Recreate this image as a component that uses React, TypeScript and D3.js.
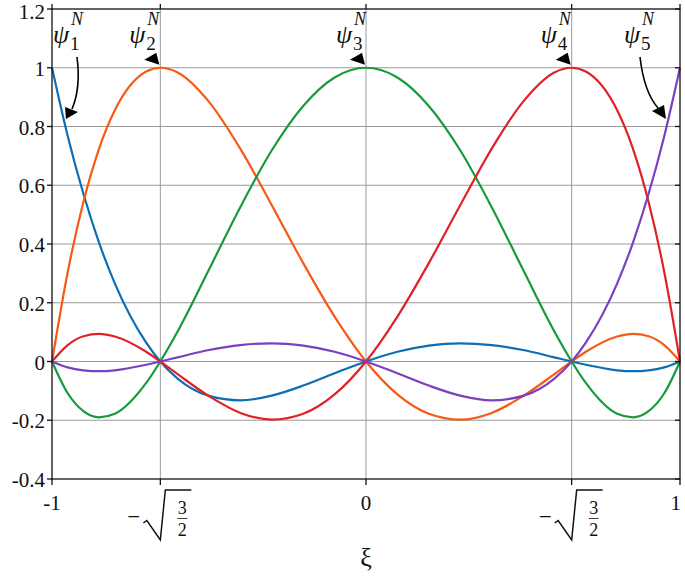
import * as d3 from "d3";

// Gauss-Lobatto node (shown on the axis as "-sqrt(3/2)")
const NODE = 0.655;

const xi = [-1, -0.95, -0.9, -0.85, -0.8, -0.7, -NODE, -0.6, -0.5, -0.4, -0.3, -0.2, -0.1, 0,
  0.1, 0.2, 0.3, 0.4, 0.5, 0.6, NODE, 0.7, 0.8, 0.85, 0.9, 0.95, 1];

const psi1 = [1, 0.768, 0.571, 0.404, 0.266, 0.064, 0, -0.058, -0.117, -0.132, -0.116, -0.082, -0.04, 0,
  0.033, 0.054, 0.062, 0.056, 0.039, 0.014, 0, -0.011, -0.03, -0.033, -0.03, -0.02, 0];
const psi2 = [0, 0.304, 0.543, 0.725, 0.855, 0.987, 1, 0.984, 0.884, 0.724, 0.532, 0.335, 0.153, 0,
  -0.112, -0.178, -0.198, -0.175, -0.118, -0.043, 0, 0.033, 0.085, 0.094, 0.086, 0.056, 0];
const psi3 = [0, -0.108, -0.169, -0.19, -0.178, -0.073, 0, 0.102, 0.313, 0.526, 0.719, 0.87, 0.967, 1,
  0.967, 0.87, 0.719, 0.526, 0.313, 0.102, 0, -0.073, -0.178, -0.19, -0.169, -0.108, 0];
const psi4 = [0, 0.056, 0.086, 0.094, 0.085, 0.033, 0, -0.043, -0.118, -0.175, -0.198, -0.178, -0.112, 0,
  0.153, 0.335, 0.532, 0.724, 0.884, 0.984, 1, 0.987, 0.855, 0.725, 0.543, 0.304, 0];
const psi5 = [0, -0.02, -0.03, -0.033, -0.03, -0.011, 0, 0.014, 0.039, 0.056, 0.062, 0.054, 0.033, 0,
  -0.04, -0.082, -0.116, -0.132, -0.117, -0.058, 0, 0.064, 0.266, 0.404, 0.571, 0.768, 1];

const series = [psi1, psi2, psi3, psi4, psi5];
const colors = ["#0d6db5", "#f75a14", "#189a3c", "#df2226", "#7b3fbf"];

const yTicks = [-0.4, -0.2, 0, 0.2, 0.4, 0.6, 0.8, 1, 1.2];
const yTickLabels = ["-0.4", "-0.2", "0", "0.2", "0.4", "0.6", "0.8", "1", "1.2"];
const xTicks = [-1, -NODE, 0, NODE, 1];
const xTickLabels = ["-1", "sqrt", "0", "sqrt", "1"];

const FONT = "Liberation Serif, Tinos, Times New Roman, Nimbus Roman, serif";

function SqrtLabel({ tx }: { tx: number }) {
  // "−√(3/2)" drawn by hand
  return (
    <g style={{ fontFamily: FONT }} fill="#111">
      <text x={tx - 33} y={524} fontSize={22} textLength={13} lengthAdjust="spacingAndGlyphs">−</text>
      <path
        d={`M${tx - 17},523 L${tx - 13.5},520.5 L${tx},540 L${tx + 5},490 L${tx + 31},490`}
        fill="none" stroke="#111" strokeWidth={1.5} strokeLinejoin="miter"
      />
      <text x={tx + 22} y={514} fontSize={18} textAnchor="middle">3</text>
      <line x1={tx + 17} x2={tx + 27} y1={518.5} y2={518.5} stroke="#111" strokeWidth={0.8} />
      <text x={tx + 22} y={536} fontSize={18} textAnchor="middle">2</text>
    </g>
  );
}

function PsiLabel({ lx, k }: { lx: number; k: number }) {
  return (
    <g style={{ fontFamily: FONT }} fill="#111">
      <text x={lx} y={43} fontSize={26} fontStyle="italic">ψ</text>
      <text x={lx + 17} y={50} fontSize={19}>{k}</text>
      <text x={lx + 18} y={25} fontSize={18} fontStyle="italic">N</text>
    </g>
  );
}

export default function App() {
  const width = 685;
  const height = 578;
  const x = d3.scaleLinear().domain([-1, 1]).range([52, 680]);
  const y = d3.scaleLinear().domain([-0.4, 1.2]).range([479, 9]);

  const line = d3.line<number>()
    .x((_, i) => x(xi[i]))
    .y((d) => y(d))
    .curve(d3.curveMonotoneX);

  const [x0, x1] = x.range();
  const [yb, yt] = y.range();

  return (
    <svg width={width} height={height} style={{ position: "absolute", left: 0, top: 0, background: "#fff", fontFamily: FONT }}>
      {/* grid */}
      {yTicks.slice(1, -1).map((t) => (
        <line key={"gy" + t} x1={x0} x2={x1} y1={y(t)} y2={y(t)} stroke="#9a9a9a" strokeWidth={1} />
      ))}
      {xTicks.slice(1, -1).map((t) => (
        <line key={"gx" + t} x1={x(t)} x2={x(t)} y1={yt} y2={yb} stroke="#9a9a9a" strokeWidth={1} />
      ))}

      {/* curves */}
      {series.map((s, i) => (
        <path key={i} d={line(s) ?? ""} fill="none" stroke={colors[i]} strokeWidth={2.2} />
      ))}

      {/* frame */}
      <rect x={x0} y={yt} width={x1 - x0} height={yb - yt} fill="none" stroke="#111" strokeWidth={1.3} />

      {/* ticks */}
      {yTicks.map((t) => (
        <g key={"ty" + t}>
          <line x1={x0 - 5} x2={x0} y1={y(t)} y2={y(t)} stroke="#111" strokeWidth={1.3} />
          <line x1={x1 - 5} x2={x1} y1={y(t)} y2={y(t)} stroke="#111" strokeWidth={1.3} />
        </g>
      ))}
      {xTicks.map((t) => (
        <g key={"tx" + t}>
          <line x1={x(t)} x2={x(t)} y1={yb} y2={yb + 6} stroke="#111" strokeWidth={1.3} />
          <line x1={x(t)} x2={x(t)} y1={yt - 5} y2={yt} stroke="#111" strokeWidth={1.3} />
        </g>
      ))}

      {/* y tick labels */}
      {yTicks.map((t, i) => (
        <text key={"ly" + t} x={45} y={Math.max(y(t) + 8, 19)} fontSize={21} textAnchor="end" fill="#111">
          {yTickLabels[i]}
        </text>
      ))}

      {/* x tick labels */}
      {xTicks.map((t, i) =>
        xTickLabels[i] === "sqrt" ? (
          <SqrtLabel key={"lx" + i} tx={x(t)} />
        ) : (
          <text
            key={"lx" + i}
            x={i === xTicks.length - 1 ? x(t) + 1 : x(t)}
            y={510}
            fontSize={21}
            textAnchor={i === xTicks.length - 1 ? "end" : "middle"}
            fill="#111"
          >
            {xTickLabels[i]}
          </text>
        )
      )}

      {/* axis title */}
      <text x={x(0)} y={566} fontSize={26} textAnchor="middle" fill="#111">ξ</text>

      {/* annotations */}
      <PsiLabel lx={x(-1) + 1} k={1} />
      <PsiLabel lx={x(-NODE) - 31} k={2} />
      <PsiLabel lx={x(0) - 30} k={3} />
      <PsiLabel lx={x(NODE) - 31} k={4} />
      <PsiLabel lx={x(1) - 56} k={5} />

      {[-NODE, 0, NODE].map((n) => {
        const nx = x(n);
        return (
          <polygon key={"ah" + n} points={`${nx - 1},${y(1) - 3} ${nx - 16},${y(1) - 8} ${nx - 4},${y(1) - 15}`} fill="#000" />
        );
      })}

      <path d="M77,57 Q81,88 72,109" fill="none" stroke="#000" strokeWidth={1.6} />
      <polygon points="66,119 65,107 78,112" fill="#000" />
      <path d="M640,57 Q644,92 658,108" fill="none" stroke="#000" strokeWidth={1.6} />
      <polygon points="666,119 652,111 664,105" fill="#000" />
    </svg>
  );
}
